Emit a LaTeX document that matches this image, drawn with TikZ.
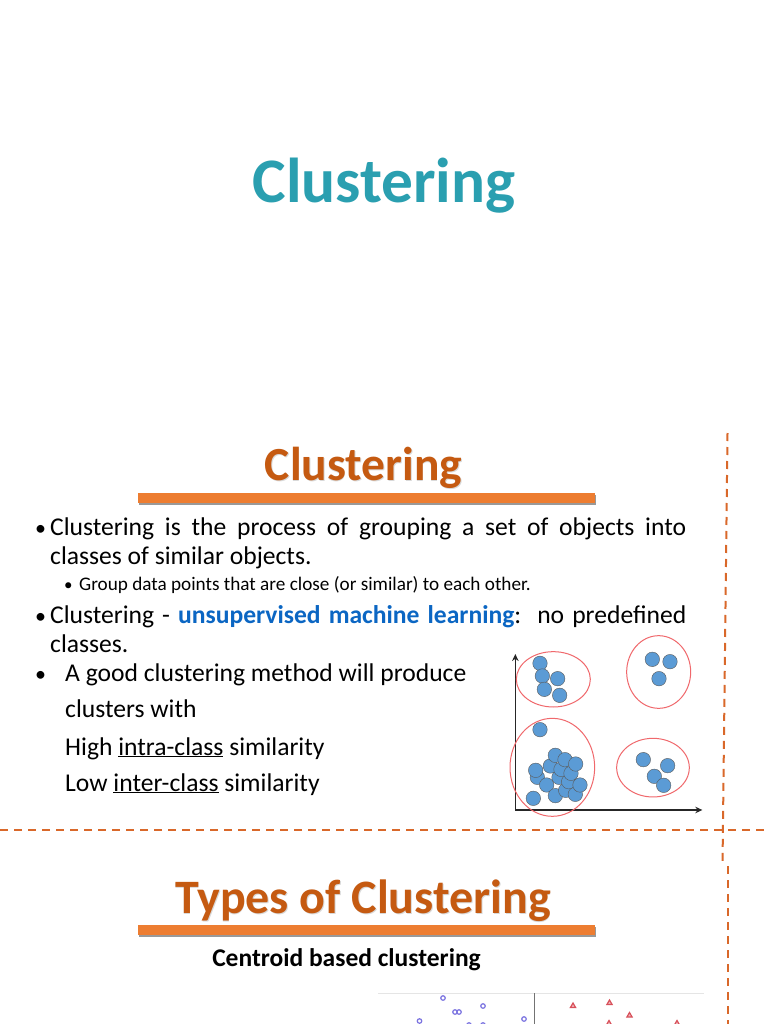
\documentclass[tikz,border=0pt]{standalone}
\usepackage{fontspec}
\usetikzlibrary{arrows.meta,shapes.geometric}
\setmainfont{Carlito}
\definecolor{titleteal}{HTML}{2A9FB0}
\definecolor{headorange}{HTML}{C55A11}
\definecolor{barorange}{HTML}{ED7D31}
\definecolor{dashorange}{HTML}{D9682A}
\definecolor{linkblue}{HTML}{0B66C3}
\definecolor{dotblue}{HTML}{5B9BD5}
\definecolor{ringred}{HTML}{F0686C}
\definecolor{pointblue}{HTML}{7A72E0}
\definecolor{pointred}{HTML}{D8505A}
\newcommand{\ulword}[1]{\underline{#1}}
\tikzset{
  x=1pt,y=-1pt,
  line/.style={anchor=base west,inner sep=0pt,font=\fontsize{25.6}{25.6}\selectfont,text=black},
  subline/.style={anchor=base west,inner sep=0pt,font=\fontsize{19.2}{19.2}\selectfont,text=black},
  heading/.style={anchor=base,inner sep=0pt,font=\fontsize{47.5}{47.5}\selectfont\bfseries,text=headorange},
  bar/.style={fill=barorange,draw=none},
  barshadow/.style={fill=black!40,draw=none},
  dot/.style={circle,draw=black!65,line width=0.4pt,fill=dotblue,minimum size=14.5pt,inner sep=0pt},
  ring/.style={draw=ringred,line width=1pt},
  axis/.style={draw=black!85,line width=1.5pt,-{Stealth[length=7pt,width=6.5pt]}},
  guide/.style={draw=dashorange,line width=2pt,dash pattern=on 8pt off 6pt},
  bluept/.style={circle,draw=pointblue,line width=1.2pt,minimum size=4.5pt,inner sep=0pt},
  redpt/.style={regular polygon,regular polygon sides=3,draw=pointred,fill=pointred!40,line width=1.2pt,minimum size=6pt,inner sep=0pt},
}
\begin{document}
\begin{tikzpicture}
\useasboundingbox (0,0) rectangle (768,1024);
\fill[white] (0,0) rectangle (768,1024);
% guides
\coordinate (vt) at (727.5,433); \coordinate (vm) at (722.5,865);
\coordinate (vn) at (727.5,866); \coordinate (vb) at (727.5,1024);
\coordinate (hl) at (0,830); \coordinate (hr) at (768,830);
\draw[guide] (vt) -- (vm);
\draw[guide] (vn) -- (vb);
\draw[guide] (hl) -- (hr);
% title
\node[anchor=base,inner sep=0pt,font=\fontsize{63.4}{63.4}\selectfont\bfseries,text=titleteal] (title) at (384,202.5) {Clustering};
% slide 1
\node[heading,text=black!15] (h1s) at (364.2,481.2) {Clustering};
\node[heading] (h1) at (363.5,480.5) {Clustering};
\fill[barshadow] (138.5,494.5) rectangle (595.5,504.5);
\fill[bar] (138,493) rectangle (595,503);
\node[line,font=\fontsize{22}{22}\selectfont] (b1) at (35,535) {•};
\node[line] (l1) at (50,535.5) {\makebox[636pt][s]{Clustering is the process of grouping a set of objects into}};
\node[line] (l2) at (50,564.5) {classes of similar objects.};
\node[subline,font=\fontsize{17}{17}\selectfont] (b2) at (64,590) {•};
\node[subline] (l3) at (79,590) {Group data points that are close (or similar) to each other.};
\node[line,font=\fontsize{22}{22}\selectfont] (b3) at (35,623) {•};
\node[line] (l4) at (50,623.5) {\makebox[636pt][s]{Clustering - \textcolor{linkblue}{\bfseries unsupervised\ machine\ learning}:\ \ no predefined}};
\node[line] (l5) at (50,652.5) {classes.};
\node[line,font=\fontsize{22}{22}\selectfont] (b4) at (35,681) {•};
\node[line] (l6) at (65,681) {A good clustering method will produce};
\node[line] (l7) at (65,717.5) {clusters with};
\node[line] (l8) at (65,755) {High \ulword{intra-class} similarity};
\node[line] (l9) at (65,791) {Low \ulword{inter-class} similarity};
% cluster chart
\begin{scope}[shift={(490,630)},x=0.3333pt,y=-0.3333pt]
\coordinate (o) at (76,540); \coordinate (ax) at (637,540); \coordinate (ay) at (76,72);
\draw[axis] (o) -- (ay);
\draw[axis] (o) -- (ax);
\foreach \n/\p in {a1/{150,100},a2/{157,138},a3/{203,146},a4/{163,178},a5/{209,196},
  b1/{487,88},b2/{540,95},b3/{507,146},
  c1/{150,299},c2/{142,442},c3/{137,421},c4/{170,465},c5/{130,505},c6/{196,497},
  c7/{227,481},c8/{256,493},c9/{207,442},c10/{236,455},c11/{270,465},c12/{181,408},
  c13/{213,418},c14/{243,430},c15/{196,376},c16/{225,389},c17/{257,402},
  d1/{460,389},d2/{533,407},d3/{493,439},d4/{521,466}}
  \node[dot] (\n) at (\p) {};
\draw[ring] (190,148) ellipse [x radius=111,y radius=83];
\draw[ring] (506,126) ellipse [x radius=96,y radius=109];
\draw[ring] (187,412) ellipse [x radius=127,y radius=147];
\draw[ring] (489,413) ellipse [x radius=109,y radius=88];
\end{scope}
% slide 2
\node[heading,font=\fontsize{48}{48}\selectfont\bfseries,text=black!15] (h2s) at (363.7,914.2) {Types of Clustering};
\node[heading,font=\fontsize{48}{48}\selectfont\bfseries] (h2) at (363,913.5) {Types of Clustering};
\fill[barshadow] (138.5,926.5) rectangle (595.5,936.5);
\fill[bar] (138,925) rectangle (595,935);
\node[anchor=base,inner sep=0pt,font=\fontsize{25.5}{25.5}\selectfont\bfseries] (sub) at (346.5,966.5) {Centroid based clustering};
% scatter
\coordinate (sl) at (378,993); \coordinate (sr) at (704,993);
\coordinate (st) at (534.5,993); \coordinate (sb) at (534.5,1024);
\draw[black!10,line width=0.8pt] (sl) -- (sr);
\draw[black!55,line width=1pt] (st) -- (sb);
\begin{scope}
\clip (0,0) rectangle (768,1024);
\foreach \n/\p in {p1/{443,998},p2/{483,1006},p3/{455,1012},p4/{459,1012},p5/{419.5,1021},p6/{524,1019},p7/{469,1025},p8/{483,1025}}
  \node[bluept] (\n) at (\p) {};
\foreach \n/\p in {q1/{573,1006},q2/{609.5,1003},q3/{629.5,1015.5},q4/{609,1023.5},q5/{677,1023.5}}
  \node[redpt] (\n) at (\p) {};
\end{scope}
\end{tikzpicture}
\end{document}
